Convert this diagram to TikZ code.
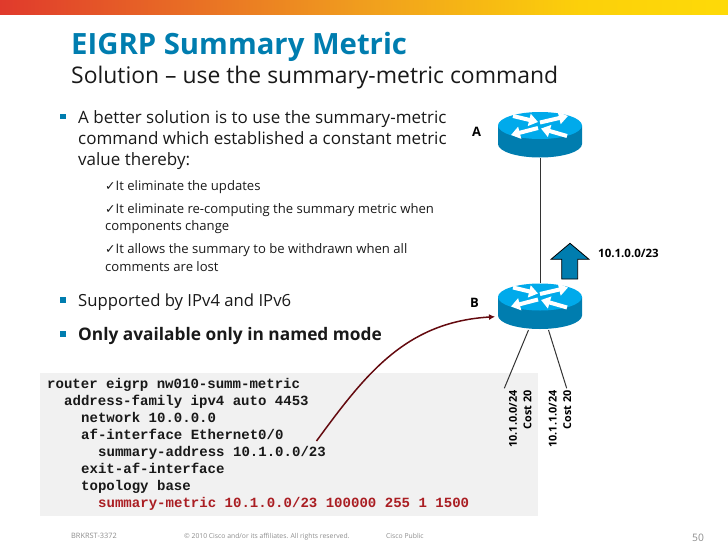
\documentclass[tikz,border=0pt]{standalone}
\usepackage{fontspec}
\setmainfont{Open Sans}
\setmonofont{Liberation Mono}
\newfontfamily\symfont{DejaVu Sans}
\usetikzlibrary{arrows.meta}
\definecolor{ciscoblue}{RGB}{0,125,175}
\definecolor{routertop}{RGB}{0,170,235}
\definecolor{routerside}{RGB}{0,125,175}
\definecolor{codegrey}{RGB}{241,241,241}
\definecolor{codered}{RGB}{170,30,35}
\definecolor{arrowred}{RGB}{100,10,15}
\definecolor{footgrey}{RGB}{140,140,140}
\definecolor{barred}{RGB}{224,58,44}
\definecolor{barorange}{RGB}{240,158,30}
\definecolor{baryellow}{RGB}{252,208,10}
\definecolor{barend}{RGB}{254,218,8}
\newcommand{\fs}[1]{\fontsize{#1}{#1}\selectfont}
\newcommand{\chk}{{\symfont\fs{12.5}✓}}
\tikzset{
  txt/.style={anchor=base west,inner sep=0pt,text=black!90},
  bigtxt/.style={txt,font=\fs{17}},
  smalltxt/.style={txt,font=\fs{13.1}},
  codetxt/.style={txt,font=\ttfamily\bfseries\fs{14.05}},
  labeltxt/.style={inner sep=0pt,font=\bfseries\fontsize{10.8}{14.5}\selectfont,text=black},
  foottxt/.style={txt,font=\fs{6.8},text=footgrey},
  bullet/.style={fill=ciscoblue,minimum size=5.5pt,inner sep=0pt},
  link/.style={draw=black!80,line width=1pt},
  routerarrow/.style={white,line width=4pt,-{Triangle[length=9pt,width=12pt]}},
  router/.pic={
    \node[minimum width=84pt,minimum height=46pt,inner sep=0pt] (-box) at (0,9.25) {};
    \fill[routerside] (-42,0) -- (-42,18.5) arc (180:0:42 and 13.5) -- (42,0) -- cycle;
    \fill[routertop] (0,0) ellipse (42 and 13.5);
    \draw[routerarrow] (-27,-9.5) -- (-2,-3.5);
    \draw[routerarrow] (0,-3) -- (28,-9.5);
    \draw[routerarrow] (-2,2.5) -- (-29,9.5);
    \draw[routerarrow] (27,10.5) -- (1,3);
  }
}
\begin{document}
\begin{tikzpicture}[x=1pt,y=-1pt]
  \useasboundingbox (0,0) rectangle (728,546);
  % top bar
  \shade[left color=barred,right color=barorange] (0,0) rectangle (364,14);
  \shade[left color=barorange,right color=baryellow] (364,0) rectangle (580,14);
  \shade[left color=baryellow,right color=barend] (580,0) rectangle (728,14);
  % title
  \node[txt,font=\bfseries\fs{29.3},text=ciscoblue] (title) at (71,54) {EIGRP Summary Metric};
  \node[txt,font=\fs{22.9}] (subtitle) at (71,83) {Solution -- use the summary-metric command};
  % bullets
  \node[bullet] (b1) at (63,116.7) {};
  \node[bigtxt] (t1) at (78,123) {A better solution is to use the summary-metric};
  \node[bigtxt] (t2) at (78,144) {command which established a constant metric};
  \node[bigtxt] (t3) at (78,165) {value thereby:};
  \node[smalltxt] (c1) at (105,190) {\chk It eliminate the updates};
  \node[smalltxt] (c2) at (105,213) {\chk It eliminate re-computing the summary metric when};
  \node[smalltxt] (c2b) at (105,230) {components change};
  \node[smalltxt] (c3) at (105,253) {\chk It allows the summary to be withdrawn when all};
  \node[smalltxt] (c3b) at (105,271) {comments are lost};
  \node[bullet] (b2) at (63,300) {};
  \node[bigtxt,font=\fs{16.7}] (t4) at (78,306) {Supported by IPv4 and IPv6};
  \node[bullet] (b3) at (63,334) {};
  \node[bigtxt,font=\bfseries\fs{17.3}] (t5) at (78,340) {Only available only in named mode};
  % code
  \fill[codegrey] (40,373) rectangle (538,516);
  \node[codetxt] (l1) at (47,388.5) {router eigrp nw010-summ-metric};
  \node[codetxt] (l2) at (64,405.5) {address-family ipv4 auto 4453};
  \node[codetxt] (l3) at (81,422.5) {network 10.0.0.0};
  \node[codetxt] (l4) at (81,439.5) {af-interface Ethernet0/0};
  \node[codetxt] (l5) at (98,456.5) {summary-address 10.1.0.0/23};
  \node[codetxt] (l6) at (81,473.5) {exit-af-interface};
  \node[codetxt] (l7) at (81,490.5) {topology base};
  \node[codetxt,text=codered] (l8) at (98,507.5) {summary-metric 10.1.0.0/23 100000 255 1 1500};
  % routers
  \pic (routerA) at (540,125.5) {router};
  \pic (routerB) at (540,297) {router};
  \node[labeltxt,font=\bfseries\fs{13}] (labelA) at (476.5,131.5) {A};
  \node[labeltxt,font=\bfseries\fs{13}] (labelB) at (474.5,303) {B};
  % links
  \coordinate (portL) at (528.5,330);
  \coordinate (portR) at (548.5,330);
  \coordinate (endL) at (504.3,388.3);
  \coordinate (endR) at (566.7,388.3);
  \draw[link] (routerA-box.south) -- (routerB-box.north);
  \draw[link] (portL) -- (endL);
  \draw[link] (portR) -- (endR);
  \node[labeltxt,rotate=90,align=right] (net0) at (520.3,419) {10.1.0.0/24\\Cost 20};
  \node[labeltxt,rotate=90,align=right] (net1) at (560,419) {10.1.1.0/24\\Cost 20};
  % update arrow
  \node[labeltxt,font=\bfseries\fs{11.5}] (sumlabel) at (628.5,253) {10.1.0.0/23};
  \draw[fill=ciscoblue,line width=0.8pt] (570,243.3) -- (551,259.3) -- (561.7,259.3) -- (561.7,279) -- (577.7,279) -- (577.7,259.3) -- (589,259.3) -- cycle;
  % pointer
  \coordinate (ptr) at (316.5,441);
  \coordinate (ptrend) at (495,316.7);
  \draw[draw=arrowred,line width=1.5pt,-{Latex[length=6pt,width=6pt]}] (ptr) .. controls (365,375) and (405,322) .. (ptrend);
  % footer
  \node[foottxt,font=\fs{7.4}] (f1) at (71,538) {BRKRST-3372};
  \node[foottxt] (f2) at (184,538) {\textcopyright{} 2010 Cisco and/or its affiliates. All rights reserved.};
  \node[foottxt] (f3) at (386,538) {Cisco Public};
  \node[foottxt,font=\fs{10.3}] (page) at (692,541.5) {50};
\end{tikzpicture}
\end{document}
